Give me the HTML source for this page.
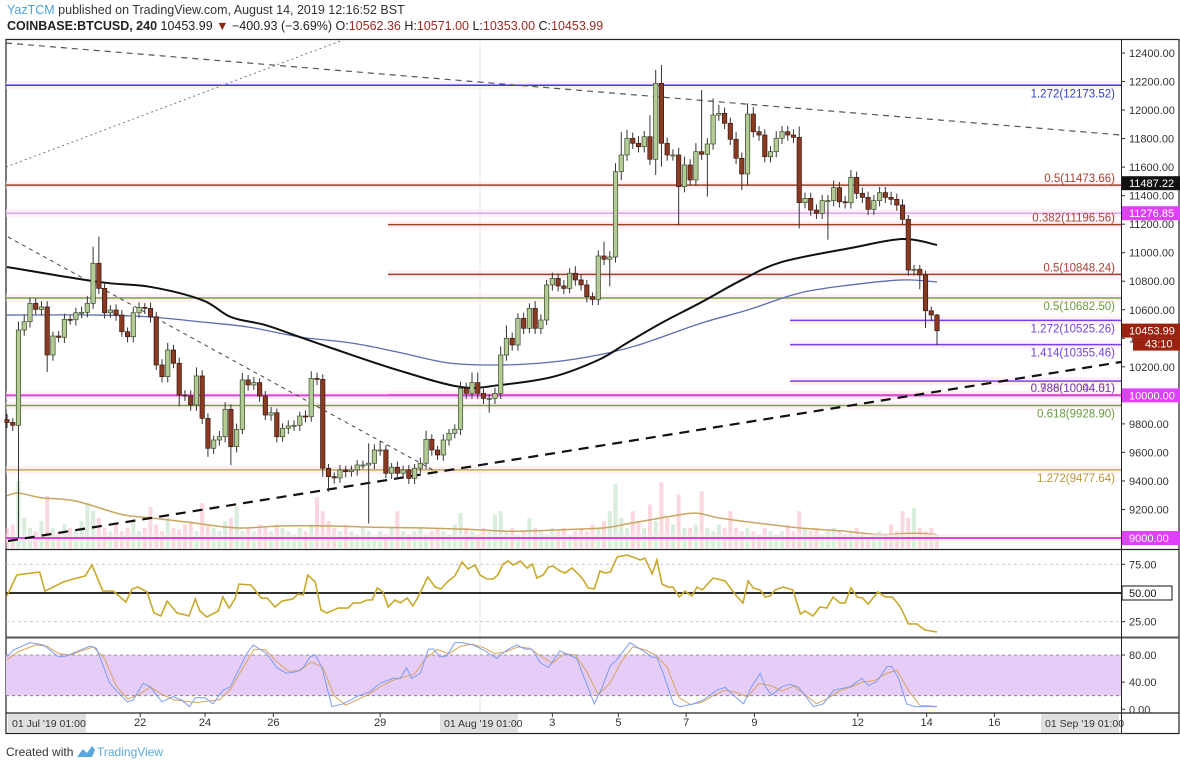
<!DOCTYPE html>
<html><head><meta charset="utf-8"><style>
html,body{margin:0;padding:0;background:#fff;}
svg{display:block;font-family:"Liberation Sans",sans-serif;}
</style></head><body>
<svg id="chart" width="1180" height="768" viewBox="0 0 1180 768" xmlns="http://www.w3.org/2000/svg">
<text x="7" y="14" font-size="12.5" fill="#333"><tspan fill="#4aa3df">YazTCM</tspan> published on TradingView.com, August 14, 2019 12:16:52 BST</text>
<text x="7" y="30" font-size="12.5" fill="#222"><tspan font-weight="bold">COINBASE:BTCUSD, 240</tspan> 10453.99 <tspan fill="#8b2a10">▼</tspan> −400.93 (−3.69%) O:<tspan fill="#9b2a20">10562.36</tspan> H:<tspan fill="#9b2a20">10571.00</tspan> L:<tspan fill="#9b2a20">10353.00</tspan> C:<tspan fill="#9b2a20">10453.99</tspan></text>
<g id="g-main"></g>
<text x="6" y="756" font-size="12" fill="#333">Created with</text>
<path d="M77 757 L83 749 L87 753 L92 746 L95 750 L92 757 Z" fill="#5aa8e0"/>
<text x="97" y="756" font-size="12" fill="#5aa8e0">TradingView</text>
</svg>
<script>
const closes=[9810,9790,10458,10516,10645,10603,10620,10283,10416,10407,10533,10530,10579,10582,10645,10926,10750,10579,10598,10563,10446,10411,10579,10617,10610,10551,10213,10131,10318,10225,10002,9995,9932,10136,9839,9629,9687,9710,9902,9640,9762,10108,10073,10089,9995,9862,9878,9710,9769,9785,9790,9855,9850,10119,10112,9489,9430,
9421,9477,9465,9477,9512,9512,9524,9617,9617,9454,9496,9454,9477,9418,9489,9524,9692,9617,9582,9687,9734,9762,10049,10014,10089,10014,9979,9979,10014,10283,10400,10353,10540,10470,10610,10470,10528,10774,10820,10767,10750,10856,10809,10774,10692,10673,10977,10954,10970,11568,11685,11802,11767,11743,
11813,11655,12187,11767,11685,11685,11463,11615,11510,11708,11690,11762,11965,11977,11907,11795,11662,11552,11972,11848,11825,11673,11708,11802,11848,11825,11809,11351,11381,11299,11276,11365,11365,11456,11357,11350,11528,11416,11388,11304,11365,11421,11388,11374,11334,11234,10879,10884,10844,10593,10563,10453];
const firstOpen=9830;
const upperWick=[40,30,60,50,40,35,40,40,30,35,40,30,35,40,50,116,186,40,35,40,35,30,40,35,30,40,35,40,50,35,40,35,40,60,40,35,30,40,50,35,40,50,35,40,30,35,40,30,35,40,35,30,40,50,40,35,30,30,35,30,30,35,30,140,40,60,35,30,40,30,35,30,40,60,35,30,40,30,35,47,40,70,70,35,30,40,60,90,40,35,40,35,50,40,35,40,35,40,35,50,40,35,30,40,100,40,60,160,60,40,50,40,150,94,129,40,40,50,60,40,60,432,40,117,60,40,40,50,40,75,50,40,40,40,50,40,40,40,75,40,40,40,40,40,50,40,40,52,40,40,40,40,40,40,40,40,40,30,30,30,30,30,8];
const lowerWick=[40,40,790,40,40,35,40,120,40,35,40,35,40,40,35,40,40,40,35,40,35,40,40,35,40,40,35,40,40,35,80,35,40,40,40,60,40,40,40,130,40,35,40,35,40,35,40,40,35,40,35,40,40,35,40,60,105,40,35,40,35,40,30,410,40,40,35,40,40,35,40,40,35,40,40,35,40,40,35,40,40,40,40,40,100,40,40,40,40,40,40,35,40,40,35,40,40,40,35,40,40,40,40,40,40,190,40,60,40,40,40,40,40,110,164,40,40,269,40,40,40,40,297,40,40,40,40,40,113,78,40,40,40,40,40,40,40,40,180,40,40,40,40,274,40,40,40,40,40,40,40,40,40,40,40,40,40,40,40,100,120,40,100];
const volumes=[30,35,100,45,30,25,40,78,30,25,35,30,25,40,67,55,45,30,25,35,25,30,40,25,30,61,35,25,45,30,28,35,40,25,67,35,30,25,40,45,61,25,30,25,35,30,25,35,30,25,20,30,25,35,76,55,40,30,25,35,25,20,30,25,15,25,20,30,55,25,20,25,30,20,25,30,25,20,35,52,30,25,20,30,25,50,55,25,30,20,25,45,30,25,20,30,25,30,20,25,30,25,35,30,40,55,96,45,30,55,40,30,65,40,98,45,35,80,30,30,35,85,30,25,35,30,55,30,25,30,25,20,30,25,20,25,35,25,55,30,25,30,20,25,30,25,20,25,30,20,15,20,25,20,35,25,55,45,60,30,25,30,20];
const volMaBar=[0,2,6,12,20,25,32,40,48,56,64,72,80,88,96,104,108,112,116,120,124,130,138,146,152,158,162];
const volMaVal=[78,82,75,70,50,45,38,30,33,33,31,30,28,25,27,30,36,42,48,52,45,38,30,25,20,22,20];
const ma100Bar=[0,16,25,34,39,45,51,56,68,79,86,95,103,108,114,121,128,135,147,156,162];
const ma100Val=[10900,10795,10760,10668,10549,10493,10409,10339,10178,10059,10073,10129,10248,10367,10507,10654,10809,10935,11033,11096,11054];
const ma200Bar=[0,16,25,34,42,51,60,68,77,86,95,103,110,121,129,138,147,156,162];
const ma200Val=[10563,10563,10549,10514,10479,10409,10367,10304,10227,10213,10234,10283,10353,10507,10598,10717,10774,10809,10795];
const rsiBar=[0,1.7,5.7,6.6,9.8,11.5,13.6,14.8,16.7,18.5,20.7,21.8,22.8,24.4,25.6,26.8,27.9,29.6,31.7,32.8,33.6,34.8,36.8,37.6,38.7,39.7,40.4,42.5,44.3,45.3,46.7,47.9,49.8,50.7,51.6,52.4,53.7,54.7,55.7,57.7,59.4,60.3,61.5,62.7,63.6,64.5,65.5,66.4,67.6,68.5,69.7,70.7,71.6,73.3,74.6,75.6,76.7,78,79.3,80.3,81.5,82.4,83.6,84.7,85.5,86.4,87.3,88.2,89.4,90.6,91.5,92.3,93.4,94.3,95.1,96.3,97.2,98.4,99.5,100.3,101.2,102.3,103.3,104.2,105.1,106.3,108,109,110.3,111.1,112.4,113.2,114.1,115.2,116,117.1,118.1,119.3,120.2,121.1,123,125.1,127.2,128.2,129.1,130,131.2,132.1,132.9,133.8,135.2,136.9,138.2,139,140.4,141.6,142.8,143.9,145.1,146,147,148.1,149,150,151.7,153,154.2,155.1,155.9,157,158.5,159.9,162];
const rsiVal=[47.4,65.7,68.3,51.7,59.6,62.2,64.8,74.4,51.7,51.7,42.2,53.5,55.2,50.9,32.6,30,43,32.6,30,44.8,34.3,29.1,34.3,46.5,36.9,44.8,57.8,57,45.6,45.6,37.8,43,44.8,49.1,48.3,65.7,59.6,35.2,32.6,36.9,36.9,41.3,41.3,43.9,43.9,54.4,50.9,37.8,43.9,41.3,45.6,38.7,46.5,63.9,55.2,53.5,59.6,64.8,77,70.9,74.4,65.7,62.2,62.2,65.7,75.3,77.9,74.4,77.9,71.8,75.3,63.1,65.7,72.7,73.5,69.2,67.4,71.8,66.6,62.2,54.4,53.5,69.2,67.4,68.3,81.4,83.1,81.4,78.8,80.5,66.6,78.8,57.8,55.2,55.2,46.5,51.7,47.4,55.2,52.6,63.1,60.5,46.5,41.3,60.5,54.4,52.6,46.5,47.4,52.6,55.2,52.6,31.7,34.3,30,37.8,36.9,46.5,41.3,41.3,54.4,46.5,45.6,40.4,50.9,46.5,46.5,41.3,35.2,23,23,17.7,16];
const kBar=[0,1.1,4,6.3,7.5,8.9,10.4,12.1,14.5,15.6,17.9,20.9,22,23.7,24.9,27,28.9,30.4,31.8,32.8,34.5,35.9,37.6,38.9,41.8,42.9,45.2,47,48.7,50.5,51.6,52.8,53.7,54.8,56.6,58.6,60.9,63.2,65,67.3,68.5,69.6,70.5,72,73.4,74.3,75.4,76.6,78,79.2,81.2,82.4,83,85.3,87.1,88.8,90.2,91.4,92.9,94.3,96.3,97.5,99.2,101,102.3,103.6,105.1,106.2,108.5,110.9,112.3,113.2,114.3,116.1,117.2,119.6,121.3,123.6,125.1,126.5,128.3,129.7,131.2,132.1,133.2,135,136.4,137.9,140.5,142.2,144,146.9,148.9,150.1,151.5,153.3,154.1,155.3,156.7,158.2,162];
const kVal=[77.5,87.4,98.2,94.8,87.4,77.5,78.6,84.9,93.3,89.9,38.3,11,13.7,38.3,33.3,11,18.5,13.7,3.8,17,17,8,28,33.3,82.5,94.8,82.5,61.3,53,55.4,61.3,77.5,80,63,3.8,8,18.5,25.9,38.3,45.7,45.7,61.3,45.7,53,88.7,88.7,77.5,78.6,98.2,98.2,94.8,89.9,87.4,75.2,87.4,94.8,88.7,88.7,68.7,61.3,85.9,81.5,75.2,36.8,8,30.9,64.3,72.7,98.2,85.9,76.8,76.8,53,8,3.8,8,13.7,28,32.4,21,8,33.3,53,33.3,21,33.3,36.8,32.4,3.8,8,28,33.3,45.7,34.8,40.7,63,63,45.7,8,3.8,3.8];
const dBar=[0,2,5,7,9,11,13,15,17,19,21,23,25,27,29,31,33,35,37,39,41,43,45,47,49,51,53,55,57,59,61,63,65,67,69,71,73,75,77,79,81,83,85,87,89,91,93,95,97,99,101,103,105,107,109,111,113,115,117,119,121,123,125,127,129,131,133,135,137,139,141,143,145,147,149,151,153,155,157,159,162];
const dVal=[73,85,95,93,82,80,86,92,75,35,15,22,33,22,14,12,10,12,14,30,60,88,88,70,56,57,70,62,20,6,14,22,33,42,47,52,76,88,82,93,96,91,82,85,92,90,78,68,82,80,55,22,38,70,92,88,80,62,18,7,10,20,28,25,18,38,35,27,34,22,8,16,27,33,40,42,52,58,28,6,4];
const priceTicks=[12400,12200,12000,11800,11600,11400,11200,11000,10800,10600,10400,10200,10000,9800,9600,9400,9200];
const rsiTicks=[75,25];
const stochTicks=[80,40,0];
const dayLabels=["22","24","26","29","3","5","7","9","12","14","16"];
const dayBars=[23.2,34.5,46.4,65,95,106.5,118.3,130.2,148.2,160.2,172];
const fibPrices=[12173.52,11473.66,11276.85,11196.56,10848.24,10682.50,10525.26,10355.46,10100,10004.01,10000,9928.90,9477.64,9000];
const fibLabels=["1.272(12173.52)","0.5(11473.66)","","0.382(11196.56)","0.5(10848.24)","0.5(10682.50)","1.272(10525.26)","1.414(10355.46)","","0.786(10004.01)","","0.618(9928.90)","1.272(9477.64)",""];

const NS="http://www.w3.org/2000/svg";
const G=document.getElementById('g-main');
function mk(tag,attrs,parent){const e=document.createElementNS(NS,tag);for(const k in attrs)e.setAttribute(k,attrs[k]);(parent||G).appendChild(e);return e;}
const N=closes.length;
const X0=7,X1=937,PR=1121;
const xB=i=>X0+i*(X1-X0)/(N-1);
const yP=p=>538-(p-9000)*0.14265;
const yV=v=>548-v*0.67;
const yR=r=>593-(r-50)*1.147;
const yS=s=>695.7-(s-20)*0.678;
function smooth(pts){let d='M'+pts[0][0]+','+pts[0][1];
 for(let i=0;i<pts.length-1;i++){const p0=pts[Math.max(0,i-1)],p1=pts[i],p2=pts[i+1],p3=pts[Math.min(pts.length-1,i+2)];
  const c1x=p1[0]+(p2[0]-p0[0])/6,c1y=p1[1]+(p2[1]-p0[1])/6,c2x=p2[0]-(p3[0]-p1[0])/6,c2y=p2[1]-(p3[1]-p1[1])/6;
  d+=' C'+c1x+','+c1y+' '+c2x+','+c2y+' '+p2[0]+','+p2[1];}
 return d;}

let e;
e=mk('rect',{x:6,y:39.5,width:1173,height:694,fill:'none',stroke:'#222','stroke-width':1.2});

e=mk('line',{x1:480,y1:40,x2:480,y2:712,stroke:'#e4e4e4','stroke-width':1});


const vg=mk('g',{});

for(let i=0;i<N;i++){const o=i?closes[i-1]:firstOpen;const up=closes[i]>=o;
 e=mk('rect',{x:xB(i)-2,y:yV(volumes[i]),width:4,height:548-yV(volumes[i]),fill:up?'#a8d8b0':'#f7a8b8',opacity:0.45},vg);
 }
e=mk('path',{d:smooth(volMaBar.map((b,k)=>[xB(b),yV(volMaVal[k])])),fill:'none',stroke:'#c9a560','stroke-width':1.5});


const lineStyle={12173.52:['#3a3adf',6],11473.66:['#a0401f',6],11276.85:['#d8a8ee',6],11196.56:['#a0401f',388],10848.24:['#a0401f',388],10682.5:['#7aa04a',6],10525.26:['#7b3fef',790],10355.46:['#7b3fef',790],10100:['#7b3fef',790],10004.01:['#a0401f',388],10000:['#e040e0',6],9928.9:['#7aa04a',6],9477.64:['#c8a850',6],9000:['#e040e0',6]};
const labelColor={12173.52:'#3040c0',11473.66:'#a84030',11196.56:'#a84030',10848.24:'#a84030',10682.5:'#6a9a40',10525.26:'#7040e0',10355.46:'#7040e0',10004.01:'#a84030',9928.9:'#6a9a40',9477.64:'#b8983a'};
const above={11473.66:1,11196.56:1,10848.24:1,10004.01:1};
fibPrices.forEach((p,k)=>{const st=lineStyle[p];const y=yP(p);
 e=mk('rect',{x:st[1],y:y-4,width:PR-st[1],height:8,fill:'#fde8f6',opacity:0.6});
 
 e=mk('line',{x1:st[1],y1:y,x2:PR,y2:y,stroke:st[0],'stroke-width':(p==10000||p==9000)?2:1.5});
 
 if(fibLabels[k]){e=mk('text',{x:1115,y:above[p]?y-3:y+12,'text-anchor':'end','font-size':11.5,fill:labelColor[p]});e.textContent=fibLabels[k];
 }
});
e=mk('text',{x:1115,y:yP(10004.01)-3,'text-anchor':'end','font-size':11.5,fill:'#7040e0',opacity:0.8});e.textContent='0.988(10044.51)';


e=mk('line',{x1:6,y1:43,x2:PR,y2:135,stroke:'#555','stroke-width':1.2,'stroke-dasharray':'6,5'});

e=mk('line',{x1:6,y1:167,x2:343,y2:40,stroke:'#777','stroke-width':1,'stroke-dasharray':'2,3'});

e=mk('line',{x1:8,y1:237,x2:433,y2:470,stroke:'#444','stroke-width':1,'stroke-dasharray':'4,4'});

e=mk('line',{x1:8,y1:541,x2:PR,y2:362,stroke:'#111','stroke-width':2.2,'stroke-dasharray':'10,7'});


e=mk('path',{d:smooth(ma200Bar.map((b,k)=>[xB(b),yP(ma200Val[k])])),fill:'none',stroke:'#5a6db0','stroke-width':1.3});

e=mk('path',{d:smooth(ma100Bar.map((b,k)=>[xB(b),yP(ma100Val[k])])),fill:'none',stroke:'#111','stroke-width':2});


const cg=mk('g',{});

for(let i=0;i<N;i++){const o=i?closes[i-1]:firstOpen,c=closes[i];const up=c>=o;
 const hi=Math.max(o,c)+upperWick[i],lo=Math.min(o,c)-lowerWick[i];const x=xB(i);
 e=mk('line',{x1:x,y1:yP(hi),x2:x,y2:yP(lo),stroke:'#333','stroke-width':1},cg);
 
 const yt=yP(Math.max(o,c)),yb=yP(Math.min(o,c));
 e=mk('rect',{x:x-2.2,y:yt,width:4.4,height:Math.max(1,yb-yt),fill:up?'#b3cc96':'#8a3a22',stroke:up?'#3a4a2a':'#3a1a10','stroke-width':0.7},cg);
 }

e=mk('line',{x1:6,y1:549.5,x2:1179,y2:549.5,stroke:'#222','stroke-width':1.2});

e=mk('line',{x1:6,y1:637.5,x2:1179,y2:637.5,stroke:'#555','stroke-width':2});

e=mk('line',{x1:6,y1:713,x2:1179,y2:713,stroke:'#222','stroke-width':1.2});

e=mk('line',{x1:PR+0.5,y1:40,x2:PR+0.5,y2:734,stroke:'#222','stroke-width':1});


[75,25].forEach(v=>{e=mk('line',{x1:6,y1:yR(v),x2:PR,y2:yR(v),stroke:'#ccc','stroke-width':1,'stroke-dasharray':'3,3'});
 });
e=mk('line',{x1:6,y1:yR(50),x2:PR,y2:yR(50),stroke:'#111','stroke-width':1.8});

e=mk('polyline',{points:rsiBar.map((b,k)=>xB(b)+','+yR(rsiVal[k])).join(' '),fill:'none',stroke:'#c9a92a','stroke-width':1.6});


e=mk('rect',{x:6,y:yS(80),width:PR-6,height:yS(20)-yS(80),fill:'#e6cdf7'});

[80,20].forEach(v=>{e=mk('line',{x1:6,y1:yS(v),x2:PR,y2:yS(v),stroke:'#777','stroke-width':0.8,'stroke-dasharray':'3,3'});
 });
e=mk('polyline',{points:dBar.map((b,k)=>xB(b)+','+yS(dVal[k])).join(' '),fill:'none',stroke:'#d9a35a','stroke-width':1});

e=mk('polyline',{points:kBar.map((b,k)=>xB(b)+','+yS(kVal[k])).join(' '),fill:'none',stroke:'#7b9cf0','stroke-width':1});


function tick(y,label,name){e=mk('line',{x1:PR,y1:y,x2:PR+4,y2:y,stroke:'#333','stroke-width':1});
 
 e=mk('text',{x:PR+8,y:y+4,'font-size':11,fill:'#333'});e.textContent=label;
 }
priceTicks.forEach(p=>tick(yP(p),p.toFixed(2),'price-axis'));
rsiTicks.forEach(v=>tick(yR(v),v.toFixed(2),'rsi-axis'));
stochTicks.forEach(v=>tick(yS(v),v.toFixed(2),'stoch-axis'));
function tag(y,label,bg,fg,name,h){e=mk('rect',{x:PR+1,y:y-(h||14)/2,width:58,height:h||14,fill:bg});
 
 e=mk('text',{x:PR+8,y:y+4,'font-size':11,fill:fg});e.textContent=label;
 }
tag(yP(11487.22),'11487.22','#111','#fff','last-price-tag');
tag(yP(11276.85),'11276.85','#e040fb','#fff','level-tag-11276');
tag(yP(10453.99),'10453.99','#9b2210','#fff','current-price-tag');
e=mk('rect',{x:PR+12,y:yP(10453.99)+7,width:47,height:13,fill:'#9b2210'});

e=mk('text',{x:PR+24,y:yP(10453.99)+17,'font-size':11,fill:'#fff'});e.textContent='43:10';

tag(yP(10000),'10000.00','#e040fb','#fff','level-tag-10000');
tag(yP(9000),'9000.00','#e040fb','#fff','level-tag-9000');
e=mk('rect',{x:PR+1,y:yR(50)-7,width:50,height:14,fill:'#fff',stroke:'#111'});

e=mk('text',{x:PR+8,y:yR(50)+4,'font-size':11,fill:'#111'});e.textContent='50.00';


dayLabels.forEach((l,k)=>{const x=xB(dayBars[k]);
 e=mk('line',{x1:x,y1:713,x2:x,y2:717,stroke:'#333'});
 
 e=mk('text',{x:x,y:726,'text-anchor':'middle','font-size':11,fill:'#333'});e.textContent=l;
 });
[[8,"01 Jul '19   01:00"],[440,"01 Aug '19   01:00"],[1041,"01 Sep '19   01:00"]].forEach(d=>{
 e=mk('rect',{x:d[0],y:714,width:78,height:19,fill:'#e0e0e0'});
 
 e=mk('text',{x:d[0]+4,y:727,'font-size':10.5,fill:'#333','xml:space':'preserve'});e.textContent=d[1];
 });
</script>
</body></html>
